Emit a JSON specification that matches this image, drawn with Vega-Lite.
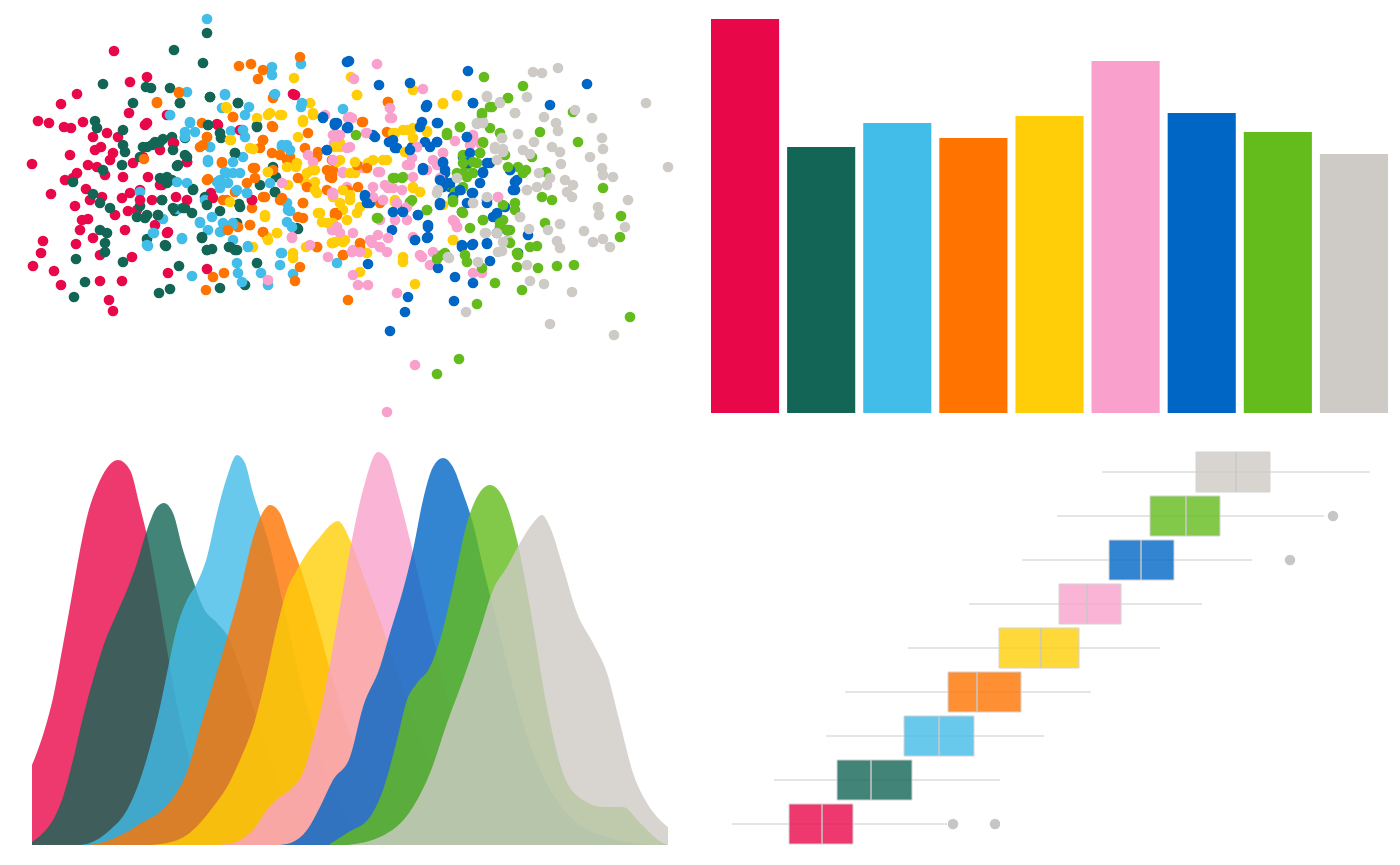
{
  "$schema": "https://vega.github.io/schema/vega-lite/v6.json",
  "description": "Four panels sharing one nine-colour palette: scatter, bars, overlapping densities and box plots.",
  "padding": {"left": 20, "top": 10, "right": 12, "bottom": 19},
  "config": {"view": {"stroke": null}},
  "datasets": {
    "points": [
      {"g":"a","x":114,"y":51},{"g":"a","x":130,"y":82},{"g":"a","x":147,"y":77},{"g":"a","x":77,"y":94},{"g":"a","x":61,"y":104},{"g":"a","x":129,"y":113},{"g":"a","x":38,"y":121},{"g":"a","x":49,"y":123},{"g":"a","x":64,"y":127},{"g":"a","x":71,"y":128},{"g":"a","x":83,"y":122},{"g":"a","x":145,"y":125},{"g":"a","x":93,"y":137},{"g":"a","x":107,"y":133},{"g":"a","x":118,"y":137},{"g":"a","x":101,"y":147},{"g":"a","x":113,"y":153},{"g":"a","x":32,"y":164},{"g":"a","x":88,"y":165},{"g":"a","x":97,"y":167},{"g":"a","x":77,"y":173},{"g":"a","x":73,"y":178},{"g":"a","x":105,"y":175},{"g":"a","x":123,"y":177},{"g":"a","x":133,"y":163},{"g":"a","x":143,"y":157},{"g":"a","x":148,"y":177},{"g":"a","x":160,"y":150},{"g":"a","x":187,"y":162},{"g":"a","x":174,"y":143},{"g":"a","x":51,"y":194},{"g":"a","x":86,"y":189},{"g":"a","x":102,"y":197},{"g":"a","x":122,"y":198},{"g":"a","x":130,"y":193},{"g":"a","x":75,"y":206},{"g":"a","x":128,"y":211},{"g":"a","x":137,"y":210},{"g":"a","x":152,"y":200},{"g":"a","x":82,"y":220},{"g":"a","x":88,"y":219},{"g":"a","x":80,"y":230},{"g":"a","x":93,"y":238},{"g":"a","x":43,"y":241},{"g":"a","x":41,"y":253},{"g":"a","x":76,"y":244},{"g":"a","x":132,"y":257},{"g":"a","x":33,"y":266},{"g":"a","x":54,"y":271},{"g":"a","x":61,"y":285},{"g":"a","x":100,"y":281},{"g":"a","x":122,"y":281},{"g":"a","x":109,"y":300},{"g":"a","x":113,"y":311},{"g":"a","x":168,"y":273},{"g":"a","x":207,"y":269},{"g":"a","x":167,"y":233},{"g":"a","x":162,"y":185},{"g":"a","x":211,"y":193},{"g":"a","x":217,"y":124},{"g":"a","x":293,"y":94},{"g":"a","x":242,"y":130},{"g":"a","x":252,"y":200},{"g":"a","x":176,"y":197},{"g":"a","x":95,"y":150},{"g":"a","x":110,"y":160},{"g":"a","x":65,"y":180},{"g":"a","x":90,"y":200},{"g":"a","x":115,"y":215},{"g":"a","x":125,"y":230},{"g":"a","x":70,"y":155},{"g":"a","x":140,"y":190},{"g":"a","x":155,"y":225},{"g":"a","x":100,"y":255},
      {"g":"b","x":207,"y":33},{"g":"b","x":174,"y":50},{"g":"b","x":203,"y":63},{"g":"b","x":103,"y":84},{"g":"b","x":146,"y":87},{"g":"b","x":151,"y":88},{"g":"b","x":170,"y":88},{"g":"b","x":133,"y":103},{"g":"b","x":210,"y":97},{"g":"b","x":180,"y":103},{"g":"b","x":95,"y":121},{"g":"b","x":97,"y":128},{"g":"b","x":123,"y":130},{"g":"b","x":238,"y":103},{"g":"b","x":123,"y":145},{"g":"b","x":125,"y":152},{"g":"b","x":140,"y":157},{"g":"b","x":147,"y":147},{"g":"b","x":155,"y":142},{"g":"b","x":163,"y":139},{"g":"b","x":172,"y":137},{"g":"b","x":185,"y":138},{"g":"b","x":208,"y":125},{"g":"b","x":257,"y":126},{"g":"b","x":221,"y":138},{"g":"b","x":122,"y":165},{"g":"b","x":103,"y":170},{"g":"b","x":73,"y":182},{"g":"b","x":177,"y":166},{"g":"b","x":185,"y":155},{"g":"b","x":235,"y":153},{"g":"b","x":167,"y":177},{"g":"b","x":172,"y":180},{"g":"b","x":193,"y":189},{"g":"b","x":93,"y":194},{"g":"b","x":100,"y":203},{"g":"b","x":110,"y":208},{"g":"b","x":140,"y":206},{"g":"b","x":137,"y":217},{"g":"b","x":147,"y":215},{"g":"b","x":162,"y":200},{"g":"b","x":158,"y":215},{"g":"b","x":175,"y":211},{"g":"b","x":185,"y":208},{"g":"b","x":205,"y":197},{"g":"b","x":220,"y":211},{"g":"b","x":239,"y":204},{"g":"b","x":275,"y":192},{"g":"b","x":276,"y":177},{"g":"b","x":273,"y":167},{"g":"b","x":100,"y":230},{"g":"b","x":107,"y":233},{"g":"b","x":105,"y":243},{"g":"b","x":105,"y":252},{"g":"b","x":76,"y":259},{"g":"b","x":123,"y":262},{"g":"b","x":147,"y":239},{"g":"b","x":166,"y":246},{"g":"b","x":202,"y":238},{"g":"b","x":207,"y":250},{"g":"b","x":212,"y":249},{"g":"b","x":229,"y":247},{"g":"b","x":237,"y":250},{"g":"b","x":257,"y":263},{"g":"b","x":179,"y":266},{"g":"b","x":85,"y":282},{"g":"b","x":74,"y":297},{"g":"b","x":159,"y":293},{"g":"b","x":170,"y":289},{"g":"b","x":220,"y":288},{"g":"b","x":245,"y":285},{"g":"b","x":298,"y":229},{"g":"b","x":237,"y":223},
      {"g":"c","x":207,"y":19},{"g":"c","x":272,"y":67},{"g":"c","x":272,"y":75},{"g":"c","x":301,"y":64},{"g":"c","x":187,"y":92},{"g":"c","x":225,"y":94},{"g":"c","x":274,"y":95},{"g":"c","x":170,"y":115},{"g":"c","x":222,"y":108},{"g":"c","x":249,"y":107},{"g":"c","x":245,"y":115},{"g":"c","x":301,"y":107},{"g":"c","x":343,"y":109},{"g":"c","x":190,"y":122},{"g":"c","x":195,"y":132},{"g":"c","x":185,"y":137},{"g":"c","x":231,"y":131},{"g":"c","x":245,"y":137},{"g":"c","x":243,"y":157},{"g":"c","x":208,"y":162},{"g":"c","x":210,"y":147},{"g":"c","x":287,"y":145},{"g":"c","x":282,"y":147},{"g":"c","x":177,"y":182},{"g":"c","x":187,"y":183},{"g":"c","x":140,"y":192},{"g":"c","x":217,"y":182},{"g":"c","x":227,"y":173},{"g":"c","x":233,"y":173},{"g":"c","x":220,"y":188},{"g":"c","x":247,"y":193},{"g":"c","x":205,"y":200},{"g":"c","x":287,"y":203},{"g":"c","x":290,"y":211},{"g":"c","x":200,"y":222},{"g":"c","x":208,"y":230},{"g":"c","x":222,"y":231},{"g":"c","x":233,"y":223},{"g":"c","x":163,"y":219},{"g":"c","x":154,"y":233},{"g":"c","x":148,"y":246},{"g":"c","x":182,"y":239},{"g":"c","x":233,"y":240},{"g":"c","x":248,"y":246},{"g":"c","x":281,"y":253},{"g":"c","x":280,"y":265},{"g":"c","x":237,"y":263},{"g":"c","x":238,"y":273},{"g":"c","x":192,"y":276},{"g":"c","x":261,"y":273},{"g":"c","x":293,"y":274},{"g":"c","x":268,"y":285},{"g":"c","x":242,"y":282},{"g":"c","x":178,"y":209},{"g":"c","x":337,"y":263},
      {"g":"d","x":300,"y":57},{"g":"d","x":239,"y":66},{"g":"d","x":251,"y":64},{"g":"d","x":263,"y":70},{"g":"d","x":258,"y":79},{"g":"d","x":179,"y":92},{"g":"d","x":157,"y":103},{"g":"d","x":273,"y":98},{"g":"d","x":233,"y":117},{"g":"d","x":273,"y":127},{"g":"d","x":202,"y":123},{"g":"d","x":207,"y":137},{"g":"d","x":200,"y":147},{"g":"d","x":263,"y":140},{"g":"d","x":260,"y":148},{"g":"d","x":272,"y":153},{"g":"d","x":290,"y":157},{"g":"d","x":308,"y":133},{"g":"d","x":318,"y":152},{"g":"d","x":222,"y":163},{"g":"d","x":253,"y":168},{"g":"d","x":207,"y":180},{"g":"d","x":235,"y":192},{"g":"d","x":227,"y":200},{"g":"d","x":263,"y":197},{"g":"d","x":280,"y":200},{"g":"d","x":252,"y":208},{"g":"d","x":298,"y":217},{"g":"d","x":303,"y":203},{"g":"d","x":330,"y":177},{"g":"d","x":333,"y":170},{"g":"d","x":327,"y":190},{"g":"d","x":347,"y":190},{"g":"d","x":337,"y":213},{"g":"d","x":317,"y":247},{"g":"d","x":238,"y":227},{"g":"d","x":250,"y":225},{"g":"d","x":263,"y":232},{"g":"d","x":300,"y":267},{"g":"d","x":295,"y":281},{"g":"d","x":213,"y":277},{"g":"d","x":224,"y":273},{"g":"d","x":206,"y":290},{"g":"d","x":343,"y":255},{"g":"d","x":348,"y":300},{"g":"d","x":317,"y":157},{"g":"d","x":144,"y":159},{"g":"d","x":388,"y":102},{"g":"d","x":362,"y":122},{"g":"d","x":348,"y":190},{"g":"d","x":360,"y":167},{"g":"d","x":335,"y":213},{"g":"d","x":360,"y":247},
      {"g":"e","x":294,"y":78},{"g":"e","x":282,"y":115},{"g":"e","x":268,"y":115},{"g":"e","x":227,"y":108},{"g":"e","x":231,"y":140},{"g":"e","x":257,"y":118},{"g":"e","x":298,"y":137},{"g":"e","x":303,"y":120},{"g":"e","x":310,"y":103},{"g":"e","x":313,"y":115},{"g":"e","x":268,"y":172},{"g":"e","x":288,"y":163},{"g":"e","x":296,"y":167},{"g":"e","x":312,"y":170},{"g":"e","x":315,"y":182},{"g":"e","x":305,"y":182},{"g":"e","x":253,"y":149},{"g":"e","x":265,"y":217},{"g":"e","x":277,"y":233},{"g":"e","x":267,"y":237},{"g":"e","x":253,"y":247},{"g":"e","x":293,"y":258},{"g":"e","x":306,"y":247},{"g":"e","x":318,"y":213},{"g":"e","x":322,"y":222},{"g":"e","x":332,"y":243},{"g":"e","x":343,"y":240},{"g":"e","x":333,"y":197},{"g":"e","x":340,"y":160},{"g":"e","x":343,"y":210},{"g":"e","x":317,"y":193},{"g":"e","x":351,"y":77},{"g":"e","x":357,"y":95},{"g":"e","x":413,"y":90},{"g":"e","x":443,"y":104},{"g":"e","x":457,"y":96},{"g":"e","x":427,"y":131},{"g":"e","x":413,"y":128},{"g":"e","x":403,"y":130},{"g":"e","x":395,"y":133},{"g":"e","x":387,"y":160},{"g":"e","x":368,"y":163},{"g":"e","x":355,"y":173},{"g":"e","x":340,"y":143},{"g":"e","x":350,"y":200},{"g":"e","x":357,"y":213},{"g":"e","x":345,"y":240},{"g":"e","x":367,"y":253},{"g":"e","x":360,"y":272},{"g":"e","x":395,"y":200},{"g":"e","x":420,"y":192},{"g":"e","x":413,"y":187},{"g":"e","x":403,"y":262},{"g":"e","x":415,"y":284},{"g":"e","x":453,"y":240},{"g":"e","x":443,"y":205},{"g":"e","x":333,"y":243},
      {"g":"f","x":333,"y":135},{"g":"f","x":325,"y":115},{"g":"f","x":348,"y":118},{"g":"f","x":313,"y":162},{"g":"f","x":343,"y":172},{"g":"f","x":333,"y":195},{"g":"f","x":333,"y":230},{"g":"f","x":328,"y":257},{"g":"f","x":292,"y":238},{"g":"f","x":268,"y":280},{"g":"f","x":350,"y":147},{"g":"f","x":377,"y":64},{"g":"f","x":354,"y":79},{"g":"f","x":423,"y":89},{"g":"f","x":390,"y":108},{"g":"f","x":392,"y":118},{"g":"f","x":338,"y":135},{"g":"f","x":352,"y":118},{"g":"f","x":366,"y":133},{"g":"f","x":417,"y":147},{"g":"f","x":473,"y":135},{"g":"f","x":470,"y":145},{"g":"f","x":455,"y":141},{"g":"f","x":443,"y":153},{"g":"f","x":437,"y":165},{"g":"f","x":410,"y":165},{"g":"f","x":380,"y":172},{"g":"f","x":363,"y":168},{"g":"f","x":343,"y":173},{"g":"f","x":347,"y":187},{"g":"f","x":333,"y":193},{"g":"f","x":373,"y":187},{"g":"f","x":388,"y":188},{"g":"f","x":367,"y":197},{"g":"f","x":383,"y":200},{"g":"f","x":407,"y":220},{"g":"f","x":395,"y":220},{"g":"f","x":380,"y":220},{"g":"f","x":370,"y":240},{"g":"f","x":380,"y":247},{"g":"f","x":387,"y":252},{"g":"f","x":353,"y":250},{"g":"f","x":340,"y":233},{"g":"f","x":332,"y":230},{"g":"f","x":353,"y":275},{"g":"f","x":358,"y":285},{"g":"f","x":368,"y":285},{"g":"f","x":397,"y":293},{"g":"f","x":422,"y":257},{"g":"f","x":430,"y":265},{"g":"f","x":433,"y":252},{"g":"f","x":455,"y":222},{"g":"f","x":457,"y":227},{"g":"f","x":498,"y":197},{"g":"f","x":473,"y":273},{"g":"f","x":482,"y":273},{"g":"f","x":415,"y":365},{"g":"f","x":387,"y":412},{"g":"f","x":427,"y":170},{"g":"f","x":334,"y":143},
      {"g":"g","x":349,"y":61},{"g":"g","x":379,"y":85},{"g":"g","x":410,"y":83},{"g":"g","x":468,"y":71},{"g":"g","x":473,"y":103},{"g":"g","x":426,"y":107},{"g":"g","x":438,"y":123},{"g":"g","x":422,"y":122},{"g":"g","x":335,"y":125},{"g":"g","x":348,"y":128},{"g":"g","x":373,"y":135},{"g":"g","x":389,"y":142},{"g":"g","x":397,"y":148},{"g":"g","x":412,"y":147},{"g":"g","x":425,"y":142},{"g":"g","x":437,"y":142},{"g":"g","x":467,"y":137},{"g":"g","x":463,"y":157},{"g":"g","x":510,"y":170},{"g":"g","x":515,"y":182},{"g":"g","x":513,"y":190},{"g":"g","x":443,"y":163},{"g":"g","x":445,"y":173},{"g":"g","x":450,"y":187},{"g":"g","x":443,"y":180},{"g":"g","x":423,"y":168},{"g":"g","x":487,"y":163},{"g":"g","x":483,"y":173},{"g":"g","x":461,"y":190},{"g":"g","x":473,"y":193},{"g":"g","x":487,"y":200},{"g":"g","x":493,"y":217},{"g":"g","x":505,"y":207},{"g":"g","x":365,"y":197},{"g":"g","x":370,"y":203},{"g":"g","x":403,"y":210},{"g":"g","x":418,"y":215},{"g":"g","x":440,"y":205},{"g":"g","x":462,"y":212},{"g":"g","x":392,"y":230},{"g":"g","x":428,"y":227},{"g":"g","x":427,"y":238},{"g":"g","x":415,"y":240},{"g":"g","x":462,"y":247},{"g":"g","x":473,"y":244},{"g":"g","x":487,"y":244},{"g":"g","x":497,"y":233},{"g":"g","x":528,"y":235},{"g":"g","x":518,"y":253},{"g":"g","x":490,"y":261},{"g":"g","x":438,"y":268},{"g":"g","x":455,"y":277},{"g":"g","x":473,"y":283},{"g":"g","x":368,"y":264},{"g":"g","x":408,"y":297},{"g":"g","x":405,"y":312},{"g":"g","x":454,"y":301},{"g":"g","x":390,"y":331},{"g":"g","x":587,"y":84},{"g":"g","x":550,"y":105},{"g":"g","x":347,"y":62},{"g":"g","x":323,"y":117},{"g":"g","x":335,"y":124},{"g":"g","x":347,"y":128},{"g":"g","x":327,"y":150},
      {"g":"h","x":484,"y":77},{"g":"h","x":523,"y":86},{"g":"h","x":508,"y":98},{"g":"h","x":492,"y":107},{"g":"h","x":482,"y":115},{"g":"h","x":460,"y":127},{"g":"h","x":447,"y":135},{"g":"h","x":490,"y":128},{"g":"h","x":500,"y":133},{"g":"h","x":483,"y":143},{"g":"h","x":480,"y":153},{"g":"h","x":463,"y":155},{"g":"h","x":540,"y":132},{"g":"h","x":578,"y":142},{"g":"h","x":573,"y":112},{"g":"h","x":532,"y":157},{"g":"h","x":526,"y":170},{"g":"h","x":546,"y":172},{"g":"h","x":518,"y":167},{"g":"h","x":467,"y":165},{"g":"h","x":477,"y":163},{"g":"h","x":473,"y":173},{"g":"h","x":457,"y":173},{"g":"h","x":395,"y":178},{"g":"h","x":403,"y":177},{"g":"h","x":445,"y":185},{"g":"h","x":455,"y":192},{"g":"h","x":463,"y":187},{"g":"h","x":503,"y":205},{"g":"h","x":515,"y":203},{"g":"h","x":542,"y":197},{"g":"h","x":552,"y":200},{"g":"h","x":603,"y":188},{"g":"h","x":453,"y":202},{"g":"h","x":463,"y":213},{"g":"h","x":427,"y":210},{"g":"h","x":377,"y":218},{"g":"h","x":483,"y":220},{"g":"h","x":503,"y":220},{"g":"h","x":510,"y":230},{"g":"h","x":500,"y":227},{"g":"h","x":545,"y":223},{"g":"h","x":470,"y":228},{"g":"h","x":530,"y":247},{"g":"h","x":537,"y":246},{"g":"h","x":518,"y":255},{"g":"h","x":517,"y":267},{"g":"h","x":538,"y":268},{"g":"h","x":557,"y":266},{"g":"h","x":574,"y":265},{"g":"h","x":621,"y":216},{"g":"h","x":620,"y":237},{"g":"h","x":467,"y":262},{"g":"h","x":437,"y":259},{"g":"h","x":445,"y":253},{"g":"h","x":482,"y":268},{"g":"h","x":495,"y":283},{"g":"h","x":522,"y":290},{"g":"h","x":477,"y":304},{"g":"h","x":630,"y":317},{"g":"h","x":459,"y":359},{"g":"h","x":437,"y":374},{"g":"h","x":356,"y":135},{"g":"h","x":410,"y":202},
      {"g":"i","x":533,"y":72},{"g":"i","x":542,"y":73},{"g":"i","x":558,"y":68},{"g":"i","x":487,"y":96},{"g":"i","x":500,"y":102},{"g":"i","x":527,"y":97},{"g":"i","x":515,"y":113},{"g":"i","x":544,"y":117},{"g":"i","x":556,"y":123},{"g":"i","x":558,"y":131},{"g":"i","x":575,"y":110},{"g":"i","x":592,"y":118},{"g":"i","x":646,"y":103},{"g":"i","x":602,"y":138},{"g":"i","x":603,"y":149},{"g":"i","x":590,"y":157},{"g":"i","x":534,"y":142},{"g":"i","x":552,"y":147},{"g":"i","x":560,"y":152},{"g":"i","x":561,"y":164},{"g":"i","x":518,"y":134},{"g":"i","x":502,"y":138},{"g":"i","x":495,"y":149},{"g":"i","x":503,"y":149},{"g":"i","x":483,"y":122},{"g":"i","x":477,"y":124},{"g":"i","x":530,"y":154},{"g":"i","x":527,"y":190},{"g":"i","x":537,"y":187},{"g":"i","x":547,"y":185},{"g":"i","x":539,"y":173},{"g":"i","x":550,"y":178},{"g":"i","x":565,"y":180},{"g":"i","x":573,"y":185},{"g":"i","x":567,"y":192},{"g":"i","x":572,"y":197},{"g":"i","x":602,"y":168},{"g":"i","x":603,"y":175},{"g":"i","x":613,"y":177},{"g":"i","x":668,"y":167},{"g":"i","x":628,"y":200},{"g":"i","x":598,"y":207},{"g":"i","x":599,"y":215},{"g":"i","x":625,"y":227},{"g":"i","x":584,"y":231},{"g":"i","x":593,"y":242},{"g":"i","x":603,"y":239},{"g":"i","x":610,"y":247},{"g":"i","x":560,"y":224},{"g":"i","x":557,"y":241},{"g":"i","x":560,"y":248},{"g":"i","x":548,"y":230},{"g":"i","x":529,"y":229},{"g":"i","x":520,"y":217},{"g":"i","x":508,"y":240},{"g":"i","x":502,"y":251},{"g":"i","x":486,"y":233},{"g":"i","x":487,"y":200},{"g":"i","x":473,"y":203},{"g":"i","x":437,"y":193},{"g":"i","x":449,"y":258},{"g":"i","x":478,"y":262},{"g":"i","x":527,"y":265},{"g":"i","x":530,"y":281},{"g":"i","x":544,"y":284},{"g":"i","x":572,"y":292},{"g":"i","x":466,"y":312},{"g":"i","x":550,"y":324},{"g":"i","x":614,"y":335},
      {"g":"a","x":147,"y":123},{"g":"a","x":173,"y":143},{"g":"a","x":187,"y":162},{"g":"a","x":160,"y":185},{"g":"a","x":140,"y":200},{"g":"a","x":187,"y":200},{"g":"a","x":213,"y":198},{"g":"a","x":252,"y":200},{"g":"a","x":168,"y":232},{"g":"a","x":218,"y":125},{"g":"a","x":240,"y":130},{"g":"a","x":295,"y":95},{"g":"a","x":167,"y":115},
      {"g":"b","x":210,"y":97},{"g":"b","x":180,"y":103},{"g":"b","x":238,"y":103},{"g":"b","x":257,"y":127},{"g":"b","x":208,"y":125},{"g":"b","x":220,"y":133},{"g":"b","x":235,"y":153},{"g":"b","x":173,"y":150},{"g":"b","x":187,"y":157},{"g":"b","x":178,"y":165},{"g":"b","x":160,"y":142},{"g":"b","x":152,"y":145},{"g":"b","x":143,"y":147},{"g":"b","x":207,"y":205},{"g":"b","x":240,"y":207},{"g":"b","x":275,"y":192},{"g":"b","x":260,"y":185},{"g":"b","x":193,"y":190},{"g":"b","x":162,"y":200},{"g":"b","x":173,"y":208},{"g":"b","x":183,"y":208},{"g":"b","x":192,"y":213},{"g":"b","x":158,"y":215},{"g":"b","x":145,"y":218},{"g":"b","x":202,"y":237},{"g":"b","x":165,"y":245},{"g":"b","x":207,"y":250},{"g":"b","x":230,"y":247},{"g":"b","x":235,"y":250},{"g":"b","x":297,"y":228},{"g":"b","x":160,"y":178},{"g":"b","x":167,"y":183},
      {"g":"c","x":225,"y":95},{"g":"c","x":170,"y":115},{"g":"c","x":190,"y":123},{"g":"c","x":185,"y":132},{"g":"c","x":210,"y":147},{"g":"c","x":208,"y":160},{"g":"c","x":233,"y":162},{"g":"c","x":225,"y":172},{"g":"c","x":220,"y":180},{"g":"c","x":240,"y":173},{"g":"c","x":237,"y":190},{"g":"c","x":228,"y":183},{"g":"c","x":247,"y":193},{"g":"c","x":243,"y":130},{"g":"c","x":282,"y":145},{"g":"c","x":290,"y":150},{"g":"c","x":270,"y":183},{"g":"c","x":212,"y":217},{"g":"c","x":200,"y":223},{"g":"c","x":223,"y":223},{"g":"c","x":233,"y":225},{"g":"c","x":220,"y":232},{"g":"c","x":248,"y":247},{"g":"c","x":288,"y":210},{"g":"c","x":292,"y":227},{"g":"c","x":287,"y":222},{"g":"c","x":182,"y":238},{"g":"c","x":153,"y":233},{"g":"c","x":147,"y":245},{"g":"c","x":282,"y":253},{"g":"c","x":302,"y":103},{"g":"c","x":275,"y":94},
      {"g":"d","x":157,"y":102},{"g":"d","x":179,"y":93},{"g":"d","x":233,"y":117},{"g":"d","x":207,"y":137},{"g":"d","x":203,"y":145},{"g":"d","x":222,"y":162},{"g":"d","x":208,"y":179},{"g":"d","x":223,"y":200},{"g":"d","x":255,"y":168},{"g":"d","x":255,"y":178},{"g":"d","x":263,"y":140},{"g":"d","x":272,"y":126},{"g":"d","x":280,"y":155},{"g":"d","x":287,"y":160},{"g":"d","x":305,"y":148},{"g":"d","x":298,"y":178},{"g":"d","x":307,"y":187},{"g":"d","x":327,"y":170},{"g":"d","x":332,"y":178},{"g":"d","x":265,"y":197},{"g":"d","x":282,"y":198},{"g":"d","x":303,"y":203},{"g":"d","x":250,"y":225},{"g":"d","x":263,"y":232},{"g":"d","x":303,"y":218},{"g":"d","x":317,"y":247},{"g":"d","x":228,"y":230},{"g":"d","x":247,"y":183},{"g":"d","x":273,"y":170},{"g":"d","x":337,"y":215},{"g":"d","x":363,"y":122},{"g":"d","x":388,"y":102},{"g":"d","x":387,"y":132},{"g":"d","x":332,"y":160},{"g":"d","x":357,"y":165},{"g":"d","x":367,"y":168},{"g":"d","x":332,"y":175},{"g":"d","x":347,"y":190},{"g":"d","x":358,"y":187},{"g":"d","x":380,"y":203},{"g":"d","x":335,"y":215},{"g":"d","x":360,"y":243},{"g":"d","x":343,"y":255},
      {"g":"e","x":226,"y":107},{"g":"e","x":270,"y":113},{"g":"e","x":280,"y":115},{"g":"e","x":230,"y":140},{"g":"e","x":250,"y":148},{"g":"e","x":268,"y":172},{"g":"e","x":287,"y":167},{"g":"e","x":297,"y":163},{"g":"e","x":313,"y":113},{"g":"e","x":303,"y":122},{"g":"e","x":307,"y":173},{"g":"e","x":315,"y":170},{"g":"e","x":288,"y":185},{"g":"e","x":315,"y":190},{"g":"e","x":320,"y":213},{"g":"e","x":328,"y":223},{"g":"e","x":265,"y":215},{"g":"e","x":277,"y":233},{"g":"e","x":268,"y":240},{"g":"e","x":293,"y":253},{"g":"e","x":332,"y":243},{"g":"e","x":230,"y":202},{"g":"e","x":335,"y":147},{"g":"e","x":357,"y":95},{"g":"e","x":443,"y":103},{"g":"e","x":457,"y":95},{"g":"e","x":393,"y":133},{"g":"e","x":407,"y":130},{"g":"e","x":413,"y":138},{"g":"e","x":427,"y":132},{"g":"e","x":340,"y":147},{"g":"e","x":337,"y":162},{"g":"e","x":355,"y":162},{"g":"e","x":373,"y":160},{"g":"e","x":383,"y":160},{"g":"e","x":350,"y":173},{"g":"e","x":343,"y":190},{"g":"e","x":350,"y":195},{"g":"e","x":360,"y":207},{"g":"e","x":340,"y":203},{"g":"e","x":347,"y":220},{"g":"e","x":395,"y":202},{"g":"e","x":420,"y":192},{"g":"e","x":413,"y":188},{"g":"e","x":453,"y":240},{"g":"e","x":403,"y":257},{"g":"e","x":335,"y":242},{"g":"e","x":343,"y":242},{"g":"e","x":333,"y":223},{"g":"e","x":405,"y":152},
      {"g":"f","x":308,"y":155},{"g":"f","x":282,"y":183},{"g":"f","x":332,"y":193},{"g":"f","x":292,"y":237},{"g":"f","x":310,"y":245},{"g":"f","x":333,"y":160},{"g":"f","x":338,"y":137},{"g":"f","x":390,"y":108},{"g":"f","x":390,"y":118},{"g":"f","x":350,"y":117},{"g":"f","x":367,"y":133},{"g":"f","x":340,"y":135},{"g":"f","x":347,"y":148},{"g":"f","x":378,"y":172},{"g":"f","x":407,"y":165},{"g":"f","x":417,"y":147},{"g":"f","x":412,"y":158},{"g":"f","x":433,"y":160},{"g":"f","x":443,"y":153},{"g":"f","x":385,"y":185},{"g":"f","x":393,"y":188},{"g":"f","x":402,"y":190},{"g":"f","x":413,"y":177},{"g":"f","x":440,"y":178},{"g":"f","x":373,"y":197},{"g":"f","x":383,"y":200},{"g":"f","x":397,"y":203},{"g":"f","x":407,"y":207},{"g":"f","x":333,"y":193},{"g":"f","x":337,"y":227},{"g":"f","x":353,"y":233},{"g":"f","x":378,"y":235},{"g":"f","x":388,"y":238},{"g":"f","x":372,"y":243},{"g":"f","x":380,"y":247},{"g":"f","x":360,"y":252},{"g":"f","x":352,"y":252},{"g":"f","x":413,"y":237},{"g":"f","x":453,"y":220},{"g":"f","x":457,"y":227},{"g":"f","x":498,"y":197},{"g":"f","x":473,"y":137},{"g":"f","x":480,"y":143},{"g":"f","x":420,"y":255},
      {"g":"g","x":323,"y":118},{"g":"g","x":335,"y":123},{"g":"g","x":327,"y":150},{"g":"g","x":427,"y":105},{"g":"g","x":437,"y":123},{"g":"g","x":473,"y":103},{"g":"g","x":337,"y":123},{"g":"g","x":348,"y":127},{"g":"g","x":375,"y":137},{"g":"g","x":393,"y":140},{"g":"g","x":395,"y":148},{"g":"g","x":410,"y":150},{"g":"g","x":420,"y":127},{"g":"g","x":437,"y":142},{"g":"g","x":430,"y":147},{"g":"g","x":467,"y":137},{"g":"g","x":470,"y":153},{"g":"g","x":468,"y":163},{"g":"g","x":443,"y":162},{"g":"g","x":445,"y":170},{"g":"g","x":423,"y":170},{"g":"g","x":440,"y":180},{"g":"g","x":450,"y":183},{"g":"g","x":443,"y":187},{"g":"g","x":453,"y":197},{"g":"g","x":460,"y":190},{"g":"g","x":483,"y":172},{"g":"g","x":490,"y":163},{"g":"g","x":480,"y":183},{"g":"g","x":510,"y":170},{"g":"g","x":517,"y":180},{"g":"g","x":515,"y":190},{"g":"g","x":472,"y":193},{"g":"g","x":467,"y":203},{"g":"g","x":487,"y":203},{"g":"g","x":497,"y":213},{"g":"g","x":365,"y":195},{"g":"g","x":367,"y":203},{"g":"g","x":393,"y":212},{"g":"g","x":403,"y":212},{"g":"g","x":418,"y":215},{"g":"g","x":428,"y":225},{"g":"g","x":428,"y":237},{"g":"g","x":415,"y":240},{"g":"g","x":462,"y":245},{"g":"g","x":472,"y":245},{"g":"g","x":487,"y":243},{"g":"g","x":507,"y":230},{"g":"g","x":440,"y":203},
      {"g":"h","x":490,"y":107},{"g":"h","x":508,"y":98},{"g":"h","x":482,"y":113},{"g":"h","x":460,"y":127},{"g":"h","x":447,"y":133},{"g":"h","x":483,"y":142},{"g":"h","x":480,"y":153},{"g":"h","x":473,"y":162},{"g":"h","x":463,"y":163},{"g":"h","x":463,"y":173},{"g":"h","x":467,"y":177},{"g":"h","x":393,"y":178},{"g":"h","x":402,"y":178},{"g":"h","x":505,"y":155},{"g":"h","x":508,"y":167},{"g":"h","x":453,"y":200},{"g":"h","x":462,"y":212},{"g":"h","x":483,"y":220},{"g":"h","x":507,"y":230},{"g":"h","x":500,"y":223},{"g":"h","x":412,"y":200},{"g":"h","x":427,"y":210},{"g":"h","x":378,"y":218},{"g":"h","x":510,"y":243},{"g":"h","x":517,"y":253},{"g":"h","x":442,"y":255},{"g":"h","x":465,"y":255},{"g":"h","x":515,"y":210},{"g":"h","x":523,"y":173},
      {"g":"i","x":487,"y":97},{"g":"i","x":500,"y":103},{"g":"i","x":515,"y":113},{"g":"i","x":477,"y":123},{"g":"i","x":483,"y":123},{"g":"i","x":502,"y":138},{"g":"i","x":495,"y":147},{"g":"i","x":503,"y":152},{"g":"i","x":497,"y":160},{"g":"i","x":523,"y":150},{"g":"i","x":527,"y":190},{"g":"i","x":457,"y":178},{"g":"i","x":438,"y":190},{"g":"i","x":473,"y":203},{"g":"i","x":487,"y":197},{"g":"i","x":520,"y":217},{"g":"i","x":485,"y":233},{"g":"i","x":497,"y":233},{"g":"i","x":503,"y":242},{"g":"i","x":498,"y":252},{"g":"i","x":448,"y":257}
    ],
    "bars": [
      {"g":"a","v":394},{"g":"b","v":266},{"g":"c","v":290},{"g":"d","v":275},{"g":"e","v":297},
      {"g":"f","v":352},{"g":"g","v":300},{"g":"h","v":281},{"g":"i","v":259}
    ],
    "density": [
      {"g":"a","x":32,"v":80},{"g":"a","x":43,"v":110},{"g":"a","x":53,"v":147},{"g":"a","x":63,"v":200},{"g":"a","x":72,"v":250},{"g":"a","x":80,"v":295},{"g":"a","x":88,"v":332},{"g":"a","x":97,"v":358},{"g":"a","x":107,"v":377},{"g":"a","x":118,"v":385},{"g":"a","x":130,"v":375},{"g":"a","x":140,"v":338},{"g":"a","x":148,"v":305},{"g":"a","x":158,"v":250},{"g":"a","x":168,"v":190},{"g":"a","x":178,"v":135},{"g":"a","x":190,"v":85},{"g":"a","x":203,"v":45},{"g":"a","x":218,"v":18},{"g":"a","x":235,"v":5},{"g":"a","x":255,"v":1},{"g":"a","x":280,"v":0},
      {"g":"b","x":32,"v":3},{"g":"b","x":43,"v":12},{"g":"b","x":53,"v":25},{"g":"b","x":63,"v":48},{"g":"b","x":73,"v":85},{"g":"b","x":83,"v":128},{"g":"b","x":93,"v":165},{"g":"b","x":103,"v":198},{"g":"b","x":117,"v":232},{"g":"b","x":127,"v":255},{"g":"b","x":137,"v":282},{"g":"b","x":147,"v":315},{"g":"b","x":157,"v":338},{"g":"b","x":164,"v":342},{"g":"b","x":173,"v":332},{"g":"b","x":183,"v":295},{"g":"b","x":193,"v":265},{"g":"b","x":203,"v":238},{"g":"b","x":217,"v":222},{"g":"b","x":230,"v":205},{"g":"b","x":240,"v":178},{"g":"b","x":253,"v":138},{"g":"b","x":267,"v":98},{"g":"b","x":280,"v":58},{"g":"b","x":293,"v":32},{"g":"b","x":310,"v":12},{"g":"b","x":327,"v":2},{"g":"b","x":350,"v":0},
      {"g":"c","x":80,"v":0},{"g":"c","x":90,"v":2},{"g":"c","x":110,"v":15},{"g":"c","x":127,"v":35},{"g":"c","x":140,"v":65},{"g":"c","x":150,"v":98},{"g":"c","x":160,"v":138},{"g":"c","x":167,"v":172},{"g":"c","x":177,"v":218},{"g":"c","x":187,"v":245},{"g":"c","x":197,"v":262},{"g":"c","x":207,"v":288},{"g":"c","x":217,"v":332},{"g":"c","x":227,"v":368},{"g":"c","x":237,"v":390},{"g":"c","x":245,"v":382},{"g":"c","x":253,"v":352},{"g":"c","x":260,"v":330},{"g":"c","x":270,"v":298},{"g":"c","x":280,"v":255},{"g":"c","x":290,"v":210},{"g":"c","x":300,"v":165},{"g":"c","x":315,"v":110},{"g":"c","x":330,"v":62},{"g":"c","x":345,"v":30},{"g":"c","x":360,"v":12},{"g":"c","x":380,"v":3},{"g":"c","x":400,"v":0},
      {"g":"d","x":90,"v":0},{"g":"d","x":100,"v":2},{"g":"d","x":127,"v":13},{"g":"d","x":143,"v":23},{"g":"d","x":160,"v":33},{"g":"d","x":173,"v":47},{"g":"d","x":187,"v":73},{"g":"d","x":200,"v":117},{"g":"d","x":213,"v":160},{"g":"d","x":227,"v":207},{"g":"d","x":240,"v":253},{"g":"d","x":253,"v":307},{"g":"d","x":263,"v":333},{"g":"d","x":270,"v":340},{"g":"d","x":280,"v":332},{"g":"d","x":290,"v":305},{"g":"d","x":300,"v":278},{"g":"d","x":315,"v":230},{"g":"d","x":330,"v":175},{"g":"d","x":345,"v":125},{"g":"d","x":360,"v":85},{"g":"d","x":380,"v":45},{"g":"d","x":400,"v":20},{"g":"d","x":425,"v":6},{"g":"d","x":450,"v":0},
      {"g":"e","x":150,"v":0},{"g":"e","x":167,"v":2},{"g":"e","x":187,"v":10},{"g":"e","x":200,"v":22},{"g":"e","x":213,"v":38},{"g":"e","x":227,"v":58},{"g":"e","x":240,"v":85},{"g":"e","x":253,"v":118},{"g":"e","x":267,"v":172},{"g":"e","x":277,"v":218},{"g":"e","x":287,"v":255},{"g":"e","x":297,"v":275},{"g":"e","x":307,"v":292},{"g":"e","x":320,"v":308},{"g":"e","x":333,"v":322},{"g":"e","x":338,"v":324},{"g":"e","x":350,"v":305},{"g":"e","x":365,"v":265},{"g":"e","x":380,"v":225},{"g":"e","x":395,"v":180},{"g":"e","x":410,"v":135},{"g":"e","x":425,"v":95},{"g":"e","x":440,"v":60},{"g":"e","x":460,"v":30},{"g":"e","x":480,"v":12},{"g":"e","x":510,"v":3},{"g":"e","x":540,"v":0},
      {"g":"f","x":217,"v":0},{"g":"f","x":233,"v":2},{"g":"f","x":253,"v":15},{"g":"f","x":267,"v":35},{"g":"f","x":280,"v":48},{"g":"f","x":293,"v":58},{"g":"f","x":303,"v":72},{"g":"f","x":313,"v":105},{"g":"f","x":323,"v":145},{"g":"f","x":333,"v":198},{"g":"f","x":343,"v":255},{"g":"f","x":350,"v":295},{"g":"f","x":363,"v":355},{"g":"f","x":378,"v":393},{"g":"f","x":388,"v":385},{"g":"f","x":397,"v":355},{"g":"f","x":410,"v":305},{"g":"f","x":420,"v":262},{"g":"f","x":435,"v":200},{"g":"f","x":450,"v":140},{"g":"f","x":465,"v":90},{"g":"f","x":480,"v":55},{"g":"f","x":500,"v":25},{"g":"f","x":520,"v":10},{"g":"f","x":550,"v":2},{"g":"f","x":580,"v":0},
      {"g":"g","x":280,"v":0},{"g":"g","x":293,"v":3},{"g":"g","x":307,"v":15},{"g":"g","x":320,"v":38},{"g":"g","x":333,"v":65},{"g":"g","x":350,"v":88},{"g":"g","x":363,"v":138},{"g":"g","x":380,"v":178},{"g":"g","x":390,"v":212},{"g":"g","x":403,"v":255},{"g":"g","x":413,"v":295},{"g":"g","x":423,"v":345},{"g":"g","x":433,"v":378},{"g":"g","x":443,"v":387},{"g":"g","x":453,"v":378},{"g":"g","x":463,"v":352},{"g":"g","x":472,"v":325},{"g":"g","x":485,"v":270},{"g":"g","x":500,"v":210},{"g":"g","x":515,"v":150},{"g":"g","x":530,"v":100},{"g":"g","x":545,"v":65},{"g":"g","x":560,"v":40},{"g":"g","x":580,"v":20},{"g":"g","x":610,"v":7},{"g":"g","x":640,"v":1},{"g":"g","x":660,"v":0},
      {"g":"h","x":330,"v":1},{"g":"h","x":347,"v":12},{"g":"h","x":370,"v":28},{"g":"h","x":383,"v":55},{"g":"h","x":397,"v":105},{"g":"h","x":407,"v":145},{"g":"h","x":417,"v":162},{"g":"h","x":430,"v":178},{"g":"h","x":440,"v":205},{"g":"h","x":453,"v":258},{"g":"h","x":467,"v":322},{"g":"h","x":477,"v":348},{"g":"h","x":490,"v":360},{"g":"h","x":503,"v":348},{"g":"h","x":517,"v":305},{"g":"h","x":530,"v":238},{"g":"h","x":547,"v":138},{"g":"h","x":563,"v":72},{"g":"h","x":583,"v":45},{"g":"h","x":603,"v":38},{"g":"h","x":623,"v":38},{"g":"h","x":640,"v":22},{"g":"h","x":663,"v":2},{"g":"h","x":668,"v":0},
      {"g":"i","x":347,"v":0},{"g":"i","x":380,"v":8},{"g":"i","x":413,"v":38},{"g":"i","x":430,"v":72},{"g":"i","x":447,"v":122},{"g":"i","x":463,"v":165},{"g":"i","x":480,"v":215},{"g":"i","x":493,"v":255},{"g":"i","x":507,"v":278},{"g":"i","x":520,"v":302},{"g":"i","x":533,"v":322},{"g":"i","x":542,"v":330},{"g":"i","x":550,"v":318},{"g":"i","x":563,"v":278},{"g":"i","x":577,"v":232},{"g":"i","x":593,"v":202},{"g":"i","x":607,"v":172},{"g":"i","x":620,"v":122},{"g":"i","x":633,"v":72},{"g":"i","x":647,"v":42},{"g":"i","x":660,"v":25},{"g":"i","x":668,"v":18}
    ],
    "boxes": [
      {"g":"i","lo":1102,"q1":1196,"med":1236,"q3":1270,"hi":1370},
      {"g":"h","lo":1057,"q1":1150,"med":1186,"q3":1220,"hi":1324},
      {"g":"g","lo":1022,"q1":1109,"med":1141,"q3":1174,"hi":1252},
      {"g":"f","lo":969,"q1":1059,"med":1087,"q3":1121,"hi":1202},
      {"g":"e","lo":908,"q1":999,"med":1041,"q3":1079,"hi":1160},
      {"g":"d","lo":845,"q1":948,"med":977,"q3":1021,"hi":1091},
      {"g":"c","lo":826,"q1":904,"med":939,"q3":974,"hi":1044},
      {"g":"b","lo":774,"q1":837,"med":871,"q3":912,"hi":1000},
      {"g":"a","lo":732,"q1":789,"med":822,"q3":853,"hi":947}
    ],
    "outliers": [
      {"g":"h","x":1333},{"g":"g","x":1290},{"g":"a","x":953},{"g":"a","x":995}
    ]
  },
  "columns": 2,
  "spacing": {"row": 30, "column": 31},
  "concat": [
    {
      "width": 660,
      "height": 410,
      "data": {"name": "points"},
      "mark": {"type": "circle", "size": 115, "opacity": 1},
      "encoding": {
        "x": {"field": "x", "type": "quantitative", "scale": {"domain": [20, 680], "nice": false, "zero": false}, "axis": null},
        "y": {"field": "y", "type": "quantitative", "scale": {"domain": [10, 420], "reverse": true, "nice": false, "zero": false}, "axis": null},
        "color": {
          "field": "g", "type": "nominal", "legend": null,
          "scale": {"domain": ["a","b","c","d","e","f","g","h","i"], "range": ["#E8084A","#136656","#42BCE8","#FF7300","#FFCE08","#F9A1CC","#0066C6","#64BC1C","#CECAC5"]}
        }
      }
    },
    {
      "width": 677,
      "height": 403,
      "data": {"name": "bars"},
      "mark": {"type": "bar"},
      "encoding": {
        "x": {"field": "g", "type": "nominal", "scale": {"paddingInner": 0.105, "paddingOuter": 0}, "axis": null},
        "y": {"field": "v", "type": "quantitative", "scale": {"domain": [0, 403], "nice": false}, "axis": null},
        "color": {
          "field": "g", "type": "nominal", "legend": null,
          "scale": {"domain": ["a","b","c","d","e","f","g","h","i"], "range": ["#E8084A","#136656","#42BCE8","#FF7300","#FFCE08","#F9A1CC","#0066C6","#64BC1C","#CECAC5"]}
        }
      }
    },
    {
      "width": 660,
      "height": 395,
      "data": {"name": "density"},
      "mark": {"type": "area", "interpolate": "monotone", "opacity": 0.8},
      "encoding": {
        "x": {"field": "x", "type": "quantitative", "scale": {"domain": [20, 680], "nice": false, "zero": false}, "axis": null},
        "y": {"field": "v", "type": "quantitative", "stack": null, "scale": {"domain": [0, 395], "nice": false}, "axis": null},
        "color": {
          "field": "g", "type": "nominal", "legend": null,
          "scale": {"domain": ["a","b","c","d","e","f","g","h","i"], "range": ["#E8084A","#136656","#42BCE8","#FF7300","#FFCE08","#F9A1CC","#0066C6","#64BC1C","#CECAC5"]}
        }
      }
    },
    {
      "width": 677,
      "height": 396,
      "layer": [
        {
          "data": {"name": "boxes"},
          "mark": {"type": "rule", "color": "#dddddd", "strokeWidth": 1.5},
          "encoding": {
            "x": {"field": "lo", "type": "quantitative", "scale": {"domain": [711, 1388], "nice": false, "zero": false}, "axis": null},
            "x2": {"field": "hi"},
            "y": {"field": "g", "type": "nominal", "sort": null, "scale": {"domain": ["i","h","g","f","e","d","c","b","a"], "paddingInner": 0.09, "paddingOuter": 0.045}, "axis": null}
          }
        },
        {
          "data": {"name": "boxes"},
          "mark": {"type": "bar", "fillOpacity": 0.8, "stroke": "#d4d4d4", "strokeWidth": 1},
          "encoding": {
            "x": {"field": "q1", "type": "quantitative", "axis": null},
            "x2": {"field": "q3"},
            "y": {"field": "g", "type": "nominal", "sort": null, "axis": null},
            "fill": {
              "field": "g", "type": "nominal", "legend": null,
              "scale": {"domain": ["a","b","c","d","e","f","g","h","i"], "range": ["#E8084A","#136656","#42BCE8","#FF7300","#FFCE08","#F9A1CC","#0066C6","#64BC1C","#CECAC5"]}
            }
          }
        },
        {
          "data": {"name": "boxes"},
          "mark": {"type": "tick", "color": "#c8c8c8", "thickness": 1.5, "size": 40, "opacity": 1},
          "encoding": {
            "x": {"field": "med", "type": "quantitative", "axis": null},
            "y": {"field": "g", "type": "nominal", "sort": null, "axis": null}
          }
        },
        {
          "data": {"name": "outliers"},
          "mark": {"type": "circle", "size": 110, "color": "#c6c6c6", "opacity": 1},
          "encoding": {
            "x": {"field": "x", "type": "quantitative", "axis": null},
            "y": {"field": "g", "type": "nominal", "sort": null, "axis": null}
          }
        }
      ]
    }
  ]
}
